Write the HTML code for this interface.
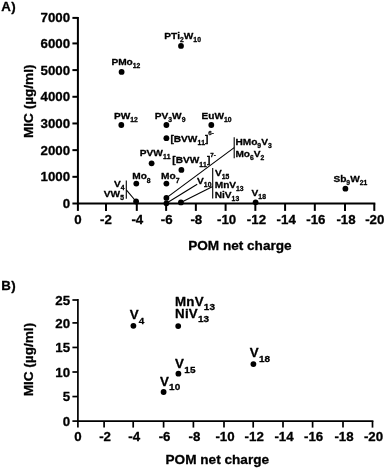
<!DOCTYPE html>
<html><head><meta charset="utf-8"><title>POM MIC chart</title>
<style>html,body{margin:0;padding:0;background:#fff}svg{display:block}</style></head>
<body>
<svg width="385" height="469" viewBox="0 0 385 469" font-family="'Liberation Sans', Arial, sans-serif" font-weight="bold" fill="#000" stroke="#000" stroke-width="0.3" stroke-linejoin="round" style="font-kerning:none">
<rect width="385" height="469" fill="#fff" stroke="none"/>
<g stroke="#000" stroke-width="2" fill="none">
<path d="M77.9 16.90V203.5H375.30"/>
<path d="M72.4 203.50H77.9"/>
<path d="M72.4 176.82H77.9"/>
<path d="M72.4 150.14H77.9"/>
<path d="M72.4 123.46H77.9"/>
<path d="M72.4 96.78H77.9"/>
<path d="M72.4 70.10H77.9"/>
<path d="M72.4 43.42H77.9"/>
<path d="M72.4 17.90H77.9"/>
<path d="M77.90 203.5V210.9"/>
<path d="M106.00 203.5V210.9"/>
<path d="M136.80 203.5V210.9"/>
<path d="M166.12 203.5V210.9"/>
<path d="M195.86 203.5V210.9"/>
<path d="M225.60 203.5V210.9"/>
<path d="M255.34 203.5V210.9"/>
<path d="M285.08 203.5V210.9"/>
<path d="M314.82 203.5V210.9"/>
<path d="M345.00 203.5V210.9"/>
<path d="M374.30 203.5V210.9"/>
</g>
<g stroke="#000" stroke-width="1.7" fill="none">
<path d="M77.9 299.10V421.1H373.40"/>
<path d="M72.4 421.10H77.9"/>
<path d="M72.4 396.55H77.9"/>
<path d="M72.4 372.00H77.9"/>
<path d="M72.4 347.45H77.9"/>
<path d="M72.4 322.90H77.9"/>
<path d="M72.4 300.00H77.9"/>
<path d="M77.90 421.1V427.6"/>
<path d="M104.10 421.1V427.6"/>
<path d="M133.20 421.1V427.6"/>
<path d="M163.60 421.1V427.6"/>
<path d="M193.40 421.1V427.6"/>
<path d="M224.00 421.1V427.6"/>
<path d="M253.20 421.1V427.6"/>
<path d="M283.00 421.1V427.6"/>
<path d="M312.60 421.1V427.6"/>
<path d="M343.00 421.1V427.6"/>
<path d="M372.50 421.1V427.6"/>
</g>
<g font-size="13.3">
<text x="70.10000000000001" y="208.00" text-anchor="end">0</text>
<text x="70.10000000000001" y="181.32" text-anchor="end">1000</text>
<text x="70.10000000000001" y="154.64" text-anchor="end">2000</text>
<text x="70.10000000000001" y="127.96" text-anchor="end">3000</text>
<text x="70.10000000000001" y="101.28" text-anchor="end">4000</text>
<text x="70.10000000000001" y="74.60" text-anchor="end">5000</text>
<text x="70.10000000000001" y="47.92" text-anchor="end">6000</text>
<text x="70.10000000000001" y="22.40" text-anchor="end">7000</text>
<text x="77.90" y="223.80" text-anchor="middle">0</text>
<text x="106.00" y="223.80" text-anchor="middle">-2</text>
<text x="137.30" y="223.80" text-anchor="middle">-4</text>
<text x="166.62" y="223.80" text-anchor="middle">-6</text>
<text x="196.36" y="223.80" text-anchor="middle">-8</text>
<text x="226.60" y="223.80" text-anchor="middle">-10</text>
<text x="256.44" y="223.80" text-anchor="middle">-12</text>
<text x="286.18" y="223.80" text-anchor="middle">-14</text>
<text x="315.92" y="223.80" text-anchor="middle">-16</text>
<text x="346.00" y="223.80" text-anchor="middle">-18</text>
<text x="374.80" y="223.80" text-anchor="middle">-20</text>
<text x="70.10000000000001" y="425.70" text-anchor="end">0</text>
<text x="70.10000000000001" y="401.15" text-anchor="end">5</text>
<text x="70.10000000000001" y="376.60" text-anchor="end">10</text>
<text x="70.10000000000001" y="352.05" text-anchor="end">15</text>
<text x="70.10000000000001" y="327.50" text-anchor="end">20</text>
<text x="70.10000000000001" y="304.60" text-anchor="end">25</text>
<text x="77.90" y="441.10" text-anchor="middle">0</text>
<text x="105.10" y="441.10" text-anchor="middle">-2</text>
<text x="134.20" y="441.10" text-anchor="middle">-4</text>
<text x="164.60" y="441.10" text-anchor="middle">-6</text>
<text x="194.40" y="441.10" text-anchor="middle">-8</text>
<text x="225.00" y="441.10" text-anchor="middle">-10</text>
<text x="254.20" y="441.10" text-anchor="middle">-12</text>
<text x="284.00" y="441.10" text-anchor="middle">-14</text>
<text x="313.60" y="441.10" text-anchor="middle">-16</text>
<text x="344.00" y="441.10" text-anchor="middle">-18</text>
<text x="373.50" y="441.10" text-anchor="middle">-20</text>
</g>
<text font-size="13.6" transform="translate(33.4,101.3) rotate(-90)" text-anchor="middle">MIC (µg/ml)</text>
<text font-size="13.6" x="239.9" y="249.6" text-anchor="middle">POM net charge</text>
<text font-size="13.6" transform="translate(33.4,359.6) rotate(-90)" text-anchor="middle">MIC (µg/ml)</text>
<text font-size="13.6" x="217.3" y="464.3" text-anchor="middle">POM net charge</text>
<text font-size="13.3" x="1.2" y="10.9" letter-spacing="0.4">A)</text>
<text font-size="13.3" x="1.3" y="289.7" letter-spacing="0.3">B)</text>
<circle cx="181.0" cy="45.9" r="2.9" stroke="none"/>
<circle cx="121.6" cy="71.9" r="2.9" stroke="none"/>
<circle cx="121.3" cy="125.0" r="2.9" stroke="none"/>
<circle cx="166.4" cy="125.0" r="2.9" stroke="none"/>
<circle cx="211.3" cy="125.0" r="2.9" stroke="none"/>
<circle cx="166.4" cy="138.2" r="2.9" stroke="none"/>
<circle cx="151.6" cy="163.3" r="2.9" stroke="none"/>
<circle cx="181.4" cy="169.9" r="2.9" stroke="none"/>
<circle cx="136.3" cy="183.6" r="2.9" stroke="none"/>
<circle cx="166.4" cy="183.6" r="2.9" stroke="none"/>
<circle cx="345.4" cy="188.7" r="2.9" stroke="none"/>
<circle cx="255.6" cy="202.3" r="2.9" stroke="none"/>
<circle cx="136.1" cy="201.5" r="2.9" stroke="none"/>
<circle cx="166.4" cy="197.9" r="2.9" stroke="none"/>
<circle cx="166.4" cy="203.3" r="2.9" stroke="none"/>
<circle cx="180.9" cy="202.4" r="2.9" stroke="none"/>
<circle cx="133.40" cy="325.85" r="2.9" stroke="none"/>
<circle cx="178.20" cy="326.10" r="2.9" stroke="none"/>
<circle cx="178.40" cy="373.70" r="2.9" stroke="none"/>
<circle cx="163.60" cy="392.00" r="2.9" stroke="none"/>
<circle cx="253.40" cy="364.10" r="2.9" stroke="none"/>
<text transform="translate(164.2,39.3) scale(1,0.97)" font-size="10.15" text-anchor="start">PTi<tspan font-size="6.80" dy="3.19">2</tspan><tspan dy="-3.19">W</tspan><tspan font-size="6.80" dy="3.19">10</tspan></text>
<text transform="translate(111.4,64.5) scale(1,0.97)" font-size="10.15" text-anchor="start">PMo<tspan font-size="6.80" dy="3.19">12</tspan></text>
<text transform="translate(114.0,118.8) scale(1,0.97)" font-size="10.15" text-anchor="start">PW<tspan font-size="6.80" dy="3.19">12</tspan></text>
<text transform="translate(154.8,118.8) scale(1,0.97)" font-size="10.15" text-anchor="start">PV<tspan font-size="6.80" dy="3.19">3</tspan><tspan dy="-3.19">W</tspan><tspan font-size="6.80" dy="3.19">9</tspan></text>
<text transform="translate(201.5,118.8) scale(1,0.97)" font-size="10.15" text-anchor="start">EuW<tspan font-size="6.80" dy="3.19">10</tspan></text>
<text transform="translate(170.4,141.8) scale(1,0.97)" font-size="10.15" text-anchor="start">[BVW<tspan font-size="6.80" dy="3.19">11</tspan><tspan dy="-3.19">]</tspan><tspan font-size="6.29" dy="-7.12">6-</tspan></text>
<text transform="translate(139.8,156.1) scale(1,0.97)" font-size="10.15" text-anchor="start">PVW<tspan font-size="6.80" dy="3.19">11</tspan></text>
<text transform="translate(172.3,163.4) scale(1,0.97)" font-size="10.15" text-anchor="start">[BVW<tspan font-size="6.80" dy="3.19">11</tspan><tspan dy="-3.19">]</tspan><tspan font-size="6.29" dy="-7.12">7-</tspan></text>
<text transform="translate(132.2,179.4) scale(1,0.97)" font-size="10.15" text-anchor="start">Mo<tspan font-size="6.80" dy="3.19">8</tspan></text>
<text transform="translate(161.0,179.4) scale(1,0.97)" font-size="10.15" text-anchor="start">Mo<tspan font-size="6.80" dy="3.19">7</tspan></text>
<text transform="translate(333.4,181.6) scale(1,0.97)" font-size="10.15" text-anchor="start">Sb<tspan font-size="6.80" dy="3.19">9</tspan><tspan dy="-3.19">W</tspan><tspan font-size="6.80" dy="3.19">21</tspan></text>
<text transform="translate(251.6,195.7) scale(1,0.97)" font-size="10.15" text-anchor="start">V<tspan font-size="6.80" dy="3.19">18</tspan></text>
<text transform="translate(114.0,186.6) scale(1,0.97)" font-size="10.15" text-anchor="start">V<tspan font-size="6.80" dy="3.19">4</tspan></text>
<text transform="translate(103.8,197.1) scale(1,0.97)" font-size="10.15" text-anchor="start">VW<tspan font-size="6.80" dy="3.19">5</tspan></text>
<text transform="translate(197.1,184.2) scale(1,0.97)" font-size="10.15" text-anchor="start">V<tspan font-size="6.80" dy="3.19">10</tspan></text>
<text transform="translate(214.9,176.2) scale(1,0.97)" font-size="10.15" text-anchor="start">V<tspan font-size="6.80" dy="3.19">15</tspan></text>
<text transform="translate(214.7,188.0) scale(1,0.97)" font-size="10.15" text-anchor="start">MnV<tspan font-size="6.80" dy="3.19">13</tspan></text>
<text transform="translate(214.7,198.3) scale(1,0.97)" font-size="10.15" text-anchor="start">NiV<tspan font-size="6.80" dy="3.19">13</tspan></text>
<text transform="translate(235.4,145.2) scale(1,0.97)" font-size="10.15" text-anchor="start">HMo<tspan font-size="6.80" dy="3.19">9</tspan><tspan dy="-3.19">V</tspan><tspan font-size="6.80" dy="3.19">3</tspan></text>
<text transform="translate(235.4,156.6) scale(1,0.97)" font-size="10.15" text-anchor="start">Mo<tspan font-size="6.80" dy="3.19">6</tspan><tspan dy="-3.19">V</tspan><tspan font-size="6.80" dy="3.19">2</tspan></text>
<g stroke="#000" stroke-width="1.1" fill="none">
<path d="M126.3 180.5V198.8"/>
<path d="M126.3 189.8L136.1 201.5"/>
<path d="M212.7 168V198.6"/>
<path d="M234.2 137.3V158.2"/>
<path d="M166.4 197.9L234.2 147.6"/>
<path d="M166.4 203.3L197.2 184.3"/>
<path d="M180.9 202.4L212.7 186.4"/>
</g>
<text x="129.7" y="319.1" font-size="13.3" text-anchor="start" letter-spacing="0.2">V<tspan font-size="9.98" dy="4.79">4</tspan></text>
<text x="175.1" y="305.6" font-size="13.3" text-anchor="start" letter-spacing="0.2">MnV<tspan font-size="9.98" dy="4.79">13</tspan></text>
<text x="175.1" y="317.7" font-size="13.3" text-anchor="start" letter-spacing="0.2">NiV<tspan font-size="9.98" dy="4.79">13</tspan></text>
<text x="175.1" y="367.9" font-size="13.3" text-anchor="start" letter-spacing="0.2">V<tspan font-size="9.98" dy="4.79">15</tspan></text>
<text x="160.0" y="385.5" font-size="13.3" text-anchor="start" letter-spacing="0.2">V<tspan font-size="9.98" dy="4.79">10</tspan></text>
<text x="249.8" y="357.1" font-size="13.3" text-anchor="start" letter-spacing="0.2">V<tspan font-size="9.98" dy="4.79">18</tspan></text>
</svg>
</body></html>
